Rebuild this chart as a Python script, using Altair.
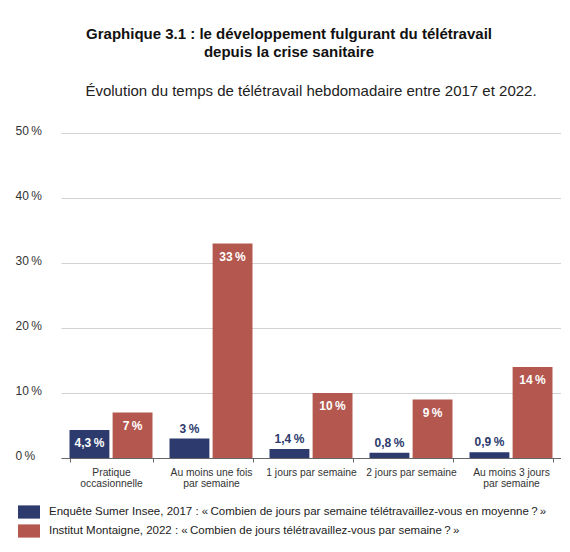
import altair as alt
import pandas as pd

categories = ["Pratique|occasionnelle", "Au moins une fois|par semaine",
              "1 jours par semaine", "2 jours par semaine", "Au moins 3 jours|par semaine"]
series_names = [
    "Enquête Sumer Insee, 2017 : «\u2009Combien de jours par semaine télétravaillez-vous en moyenne\u2009?\u2009»",
    "Institut Montaigne, 2022 : «\u2009Combien de jours télétravaillez-vous par semaine\u2009?\u2009»",
]
values_2017 = [4.3, 3, 1.4, 0.8, 0.9]
values_2022 = [7, 33, 10, 9, 14]
y_ticks = [0, 10, 20, 30, 40, 50]

BLUE = "#2c3a6d"
RED = "#b3574f"
FONT = "Liberation Sans"

rows = []
for s, vals in zip(series_names, [values_2017, values_2022]):
    for c, v in zip(categories, vals):
        rows.append({"cat": c, "source": s, "value": v,
                     "label": f"{v:g}".replace(".", ",") + "\u2009%"})
df = pd.DataFrame(rows)

x = alt.X("cat:N", sort=categories, title=None,
          scale=alt.Scale(paddingInner=0.17, paddingOuter=0.085),
          axis=alt.Axis(labelExpr="split(datum.label, '|')", labelAngle=0,
                        tickBand="extent", domainColor="#666", tickColor="#666",
                        tickSize=4, labelFont=FONT, labelFontSize=10.3,
                        labelColor="#333", labelPadding=5, labelLineHeight=11,
                        labelLimit=200))
xo = alt.XOffset("source:N", sort=series_names, scale=alt.Scale(paddingInner=0.075))
y = alt.Y("value:Q", title=None,
          scale=alt.Scale(domain=[0, 50], nice=False),
          axis=alt.Axis(values=y_ticks, labelExpr="datum.value + '\u2009%'", grid=True,
                        gridColor="#d2d2d2", domain=False, ticks=False,
                        labelAlign="left", labelPadding=46, labelOffset=-3,
                        labelFont=FONT, labelFontSize=12, labelColor="#333"))
color = alt.Color("source:N", sort=series_names,
                  scale=alt.Scale(domain=series_names, range=[BLUE, RED]),
                  legend=alt.Legend(title=None, orient="none", legendX=-43, legendY=368,
                                    symbolType="M-1,-0.6H1V0.6H-1Z", symbolSize=484,
                                    symbolStrokeWidth=0, symbolOpacity=1,
                                    labelFont=FONT, labelFontSize=11.5, labelColor="#222",
                                    labelLimit=600, rowPadding=1, labelOffset=9))

bars = alt.Chart(df).mark_bar().encode(x=x, xOffset=xo, y=y, color=color)

inside = alt.Chart(df).transform_filter(alt.datum.value >= 4).mark_text(
    baseline="middle", dy=13, color="white", font=FONT, fontWeight="bold", fontSize=12
).encode(x=x, xOffset=xo, y=y, text="label:N")

outside = alt.Chart(df).transform_filter(alt.datum.value < 4).mark_text(
    baseline="middle", dy=-10, color=BLUE, font=FONT, fontWeight="bold", fontSize=12
).encode(x=x, xOffset=xo, y=y, text="label:N")

subtitle = alt.Chart(pd.DataFrame({"t": ["Évolution du temps de télétravail hebdomadaire entre 2017 et 2022."]})).mark_text(
    font=FONT, fontSize=15, color="#222", baseline="middle", align="center"
).encode(x=alt.value(250), y=alt.value(-42), text="t:N")

chart = alt.layer(bars, inside, outside, subtitle).properties(
    width=500, height=325,
    padding={"left": 7, "top": 19, "right": 0, "bottom": 5},
    title=alt.TitleParams(
        text=["Graphique 3.1 : le développement fulgurant du télétravail",
              "depuis la crise sanitaire"],
        font=FONT, fontSize=15, fontWeight="bold", color="#111",
        anchor="middle", frame="group", dx=-22, offset=24, lineHeight=18),
).configure(background="white").configure_view(stroke=None)

chart.save("out.html", embed_options={"renderer": "svg", "actions": False})
